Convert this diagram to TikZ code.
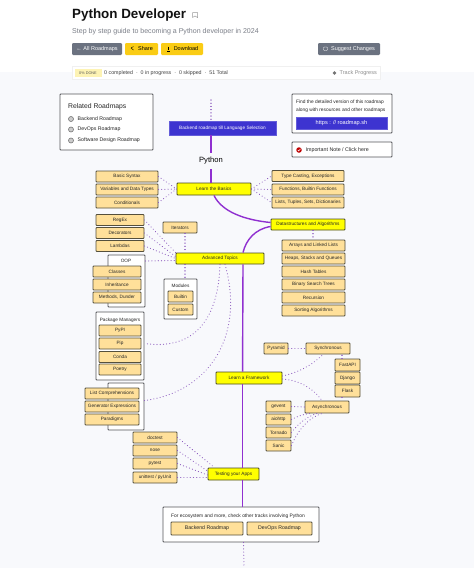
\documentclass[tikz,border=0pt]{standalone}
\usepackage{fontspec}
\setmainfont{Liberation Sans}
\usetikzlibrary{arrows.meta, positioning, fit, backgrounds, calc}
\definecolor{pagefill}{HTML}{F8F9FC}
\definecolor{titletext}{HTML}{111111}
\definecolor{subtext}{HTML}{7B7F88}
\definecolor{btngray}{HTML}{6B7280}
\definecolor{btnyellow}{HTML}{FACC15}
\definecolor{donefill}{HTML}{FDF3B4}
\definecolor{framefill}{HTML}{FFFFFF}
\definecolor{frameline}{HTML}{55565A}
\definecolor{mainfill}{HTML}{FFFF00}
\definecolor{mainline}{HTML}{4A4A22}
\definecolor{subfill}{HTML}{FFE09A}
\definecolor{subline}{HTML}{55503C}
\definecolor{linkfill}{HTML}{3D34D0}
\definecolor{pathline}{HTML}{9030D0}
\definecolor{dotline}{HTML}{9060C0}
\tikzset{
  txt/.style      = {inner sep=0pt, font=\fontsize{4.7}{5.6}\selectfont, text=black!85},
  basebox/.style  = {draw, rounded corners=0.8pt, line width=0.9pt, inner sep=0pt,
                     align=center, font=\fontsize{4.7}{5.6}\selectfont, text=black!85},
  sub/.style      = {basebox, fill=subfill, draw=subline, minimum height=11pt},
  main/.style     = {basebox, fill=mainfill, draw=mainline},
  frame/.style    = {draw=frameline, fill=framefill, rounded corners=0.8pt, line width=0.9pt,
                     inner sep=0pt},
  link/.style     = {inner sep=0pt, fill=linkfill, text=white, draw=linkfill!80,
                     font=\fontsize{4.7}{5.6}\selectfont},
  btn/.style      = {rounded corners=1.2pt, inner sep=0pt, minimum height=12pt,
                     font=\fontsize{5.5}{6.2}\selectfont},
  tick/.style     = {circle, draw=black!55, fill=black!20, line width=0.6pt,
                     minimum size=5pt, inner sep=0pt},
  solidpath/.style= {draw=pathline, line width=1.4pt},
  dotpath/.style  = {draw=dotline, line width=1.1pt, line cap=round, dash pattern=on 0.1pt off 3.1pt},
}
\begin{document}
\begin{tikzpicture}[x=1pt, y=-1pt]
\useasboundingbox (0,0) rectangle (474,568);
\fill[white] (0,0) rectangle (474,72);
\fill[pagefill] (0,72) rectangle (474,568);

% =========================================================================
% Header
% =========================================================================
\node[txt, anchor=west, font=\fontsize{13.4}{16}\selectfont\bfseries, text=titletext] (title) at (72,15.5) {Python Developer};
\draw[black!40, line width=0.5pt] (192.5,12.5) -- (197.5,12.5) -- (197.5,17.5) -- (195,16) -- (192.5,17.5) -- cycle;
\node[txt, anchor=west, font=\fontsize{7.05}{8}\selectfont, text=subtext] (subtitle) at (72,31.5) {Step by step guide to becoming a Python developer in 2024};

\node[btn, fill=btngray, text=white, minimum width=50pt] (allmaps) at (97,49) {← All Roadmaps};
\node[btn, fill=btnyellow, text=black, minimum width=33pt] (share) at (141.5,49) {\hspace{8pt}Share};
\node[btn, fill=btnyellow, text=black, minimum width=42pt] (download) at (182,49) {\hspace{8pt}Download};
\node[btn, fill=btngray, text=white, minimum width=62pt] (suggest) at (349,49) {\hspace{8pt}Suggest Changes};
\draw[black, line width=0.4pt] (131,48) -- (133.5,46.5) (131,48) -- (133.5,50);
\draw[black, line width=0.5pt] (167,51) -- (170,51) (168.5,46.5) -- (168.5,50);
\draw[white, line width=0.4pt, rounded corners=0.8pt] (323.5,47) rectangle (327.5,50.5);

\node[draw=black!6, fill=white, minimum width=308pt, minimum height=13pt, inner sep=0pt] (progress) at (226,73) {};
\node[txt, fill=donefill, minimum width=27pt, minimum height=7.5pt, font=\fontsize{3.8}{4.5}\selectfont, text=black!65] (done) at (88,73) {0\% DONE};
\node[txt, anchor=west, font=\fontsize{5.3}{6}\selectfont, text=black!75] (counts) at (104,73) {0 completed\ \ ·\ \ 0 in progress\ \ ·\ \ 0 skipped\ \ ·\ \ 51 Total};
\node[txt, anchor=east, font=\fontsize{5.5}{6}\selectfont, text=black!45] (track) at (377,73) {Track Progress};
\node[circle, fill=black!55, minimum size=3.6pt, inner sep=0pt] (trackdot) at (334.5,73) {};

% =========================================================================
% Related roadmaps and top notes
% =========================================================================
\node[frame, minimum width=93pt, minimum height=56pt] (related) at (106.5,122) {};
\node[txt, anchor=west, font=\fontsize{6.8}{8}\selectfont] (reltitle) at (68,106.5) {Related Roadmaps};
\foreach \n/\y/\t in {relback/119/Backend Roadmap, reldev/129.5/DevOps Roadmap, relsoft/140.5/Software Design Roadmap} {
  \node[tick] (\n) at (71,\y) {};
  \node[txt, anchor=west, font=\fontsize{5.2}{6}\selectfont] (\n t) at (77.5,\y) {\t};
}

\node[frame, minimum width=100pt, minimum height=39pt] (infobox) at (342,113.5) {};
\node[txt, anchor=west, align=left, font=\fontsize{4.85}{8}\selectfont] (infotext) at (296,106) {Find the detailed version of this roadmap\\along with resources and other roadmaps};
\node[link, minimum width=91pt, minimum height=12pt, font=\fontsize{5.6}{6}\selectfont] (sitelink) at (341.5,123) {https : // roadmap.sh};
\node[frame, minimum width=100pt, minimum height=15pt] (notebox) at (342,149.5) {};
\node[circle, fill=red!75!black, minimum size=5.5pt, inner sep=0pt] (notedot) at (299,150) {};
\draw[white, line width=0.5pt] (297.7,150) -- (298.7,151) -- (300.5,148.8);
\node[txt, anchor=west, font=\fontsize{5.3}{6}\selectfont] (notetext) at (305.5,150) {Important Note / Click here};

% =========================================================================
% Spine
% =========================================================================
\coordinate (topend) at (211,100);
\node[link, minimum width=107pt, minimum height=14pt] (backend) at (222.5,128) {Backend roadmap till Language Selection};
\node[inner sep=0pt, minimum height=16pt, font=\fontsize{7.6}{9}\selectfont] (python) at (211,161) {Python};
\node[main, minimum width=74pt, minimum height=12pt] (basics) at (214,189) {Learn the Basics};
\node[main, minimum width=74pt, minimum height=11pt] (dsa) at (308,224.5) {Datastructures and Algorithms};
\node[main, minimum width=88pt, minimum height=11pt] (advanced) at (220,258.5) {Advanced Topics};
\node[main, minimum width=66pt, minimum height=12pt] (framework) at (249,378) {Learn a Framework};
\node[main, minimum width=51pt, minimum height=12pt] (testing) at (233.5,474) {Testing your Apps};

\draw[dotpath] (topend) -- (topend |- backend.north);
\draw[solidpath] (topend |- backend.south) -- (python.north);
\draw[solidpath] (python.south) -- (python.south |- basics.north);
\draw[solidpath] (basics.south) .. controls (222,212) and (245,220) .. ($(dsa.west)+(0,-2)$);
\draw[solidpath] ($(dsa.west)+(0,2)$) .. controls (255,229) and (246,240) .. ($(advanced.north)+(23,0)$);
\draw[solidpath] ($(advanced.south)+(23,0)$) -- ($(framework.north west)+(27,0)$);
\draw[solidpath] ($(framework.south west)+(27,0)$) -- ($(testing.north west)+(35,0)$);

% =========================================================================
% Basics
% =========================================================================
\foreach \n/\y/\t in {syntax/176.5/Basic Syntax, variables/189.5/Variables and Data Types, conditionals/202.5/Conditionals} {
  \node[sub, minimum width=62pt] (\n) at (127,\y) {\t};
  \draw[dotpath] (\n.east) -- (basics.west);
}
\foreach \n/\y/\t in {casting/176/{Type Casting, Exceptions}, functions/189.5/{Functions, Builtin Functions}, lists/202.5/{Lists, Tuples, Sets, Dictionaries}} {
  \node[sub, minimum width=72pt] (\n) at (308,\y) {\t};
  \draw[dotpath] (basics.east) -- (\n.west);
}

% =========================================================================
% Datastructures
% =========================================================================
\foreach \n/\y/\t in {arrays/245.5/Arrays and Linked Lists, heaps/258.5/{Heaps, Stacks and Queues}, hash/271.5/Hash Tables, bst/284.5/Binary Search Trees, recursion/297.5/Recursion, sorting/310.5/Sorting Algorithms}
  \node[sub, minimum width=63pt] (\n) at (313.5,\y) {\t};
\draw[dotpath] ($(dsa.south)+(5,0)$) -- ($(arrays.north)+(-0.5,0)$);

% =========================================================================
% Advanced topics
% =========================================================================
\foreach \n/\y/\t in {regex/220/RegEx, decorators/233/Decorators, lambdas/246/Lambdas}
  \node[sub, minimum width=48pt] (\n) at (120,\y) {\t};
\node[sub, minimum width=34pt] (iterators) at (180,227.5) {Iterators};

\node[frame, minimum width=37pt, minimum height=52pt] (oop) at (126.5,281) {};
\node[txt] (ooptitle) at (126,261) {OOP};
\foreach \n/\y/\t in {classes/271.5/Classes, inheritance/284.5/Inheritance, methods/297.5/{Methods, Dunder}}
  \node[sub, minimum width=48pt] (\n) at (117,\y) {\t};

\node[frame, minimum width=33pt, minimum height=40pt] (modules) at (180.5,299) {};
\node[txt] (modtitle) at (180.5,285.5) {Modules};
\foreach \n/\y/\t in {builtin/296.5/Builtin, custom/309.5/Custom}
  \node[sub, minimum width=25pt] (\n) at (180.5,\y) {\t};

\node[frame, minimum width=48pt, minimum height=68pt] (pkgs) at (120,346) {};
\node[txt] (pkgtitle) at (120,320) {Package Managers};
\foreach \n/\y/\t in {pypi/330.5/PyPI, pip/343.5/Pip, conda/357/Conda, poetry/369.5/Poetry}
  \node[sub, minimum width=42pt] (\n) at (120,\y) {\t};

\node[frame, minimum width=36pt, minimum height=47pt] (comps) at (126,406.5) {};
\foreach \n/\y/\t in {listcomp/393.5/List Comprehensions, generators/406.5/Generator Expressions, paradigms/419.5/Paradigms}
  \node[sub, minimum width=54pt] (\n) at (112,\y) {\t};

\draw[dotpath] (regex.east) -- (advanced.north west);
\draw[dotpath] (decorators.east) -- ($(advanced.west)+(0,-2)$);
\draw[dotpath] (lambdas.east) -- ($(advanced.west)+(0,0)$);
\draw[dotpath] (oop.east |- ooptitle) -- ($(advanced.west)+(0,2)$);
\draw[dotpath] (iterators.south -| 185,0) -- (advanced.north -| 185,0);
\draw[dotpath] (advanced.south -| 185,0) -- (modules.north -| 185,0);
\draw[dotpath] ($(advanced.south)+(0,0)$) .. controls (218,325) and (190,350) .. (pkgs.east |- pip);
\draw[dotpath] ($(advanced.south)+(5,0)$) .. controls (245,335) and (210,392) .. (comps.east |- generators.north);

% =========================================================================
% Frameworks
% =========================================================================
\node[sub, minimum width=24pt] (pyramid) at (276,348.5) {Pyramid};
\node[sub, minimum width=44pt] (synchronous) at (328,348.5) {Synchronous};
\foreach \n/\y/\t in {fastapi/365/FastAPI, django/378/Django, flask/391/Flask}
  \node[sub, minimum width=25pt, minimum height=12pt] (\n) at (347.5,\y) {\t};
\node[sub, minimum width=44pt, minimum height=12pt] (asynchronous) at (327,407) {Asynchronous};
\foreach \n/\y/\t in {gevent/406.5/gevent, aiohttp/419.5/aiohttp, tornado/432.5/Tornado, sanic/445.5/Sanic}
  \node[sub, minimum width=25pt] (\n) at (278.5,\y) {\t};

\draw[dotpath] (pyramid.east) -- (synchronous.west);
\draw[dotpath] (fastapi.north -| 342,0) -- (synchronous.south -| 342,0);
\draw[dotpath] (flask.south -| 342,0) -- (asynchronous.north -| 342,0);
\draw[dotpath] (gevent.east) -- (asynchronous.west);
\draw[dotpath] ($(framework.east)+(0,-2)$) .. controls (300,372) and (312,365) .. ($(synchronous.south)+(-5,0)$);
\draw[dotpath] ($(framework.east)+(0,1)$) .. controls (298,380) and (312,387) .. ($(asynchronous.north)+(-5,0)$);
\draw[dotpath] (aiohttp.east) .. controls (298,416) and (304,414) .. ($(asynchronous.south)+(-17,0)$);
\draw[dotpath] (tornado.east) .. controls (298,424) and (306,417) .. ($(asynchronous.south)+(-10,0)$);
\draw[dotpath] (sanic.east) .. controls (298,430) and (308,418) .. ($(asynchronous.south)+(-5,0)$);

% =========================================================================
% Testing
% =========================================================================
\foreach \n/\y/\t in {doctest/437.5/doctest, nose/450.5/nose, pytest/463.5/pytest, unittest/477.5/{unittest / pyUnit}} {
  \node[sub, minimum width=44pt] (\n) at (155,\y) {\t};
}
\draw[dotpath] (doctest.east) -- ($(testing.north west)+(7,0)$);
\draw[dotpath] (nose.east) -- ($(testing.west)+(0,-3)$);
\draw[dotpath] (pytest.east) -- ($(testing.west)+(0,1)$);
\draw[dotpath] (unittest.east) -- ($(testing.west)+(0,3.5)$);

% =========================================================================
% Closing box
% =========================================================================
\node[frame, minimum width=156pt, minimum height=35pt] (closing) at (241,524.5) {};
\node[txt, anchor=west, font=\fontsize{4.9}{6}\selectfont] (closingtext) at (171,516.5) {For ecosystem and more, check other tracks involving Python};
\node[sub, minimum width=72pt, minimum height=13pt, font=\fontsize{5.2}{6}\selectfont] (backmap) at (207,528.5) {Backend Roadmap};
\node[sub, minimum width=65pt, minimum height=13pt, font=\fontsize{5.2}{6}\selectfont] (devmap) at (279.5,528.5) {DevOps Roadmap};
\coordinate (bottomend) at (244,566);

\draw[solidpath] ($(testing.south west)+(35,0)$) -- ($(closing.north west)+(80,0)$);
\draw[dotpath] ($(closing.south west)+(81,0)$) -- (bottomend);

\end{tikzpicture}
\end{document}
